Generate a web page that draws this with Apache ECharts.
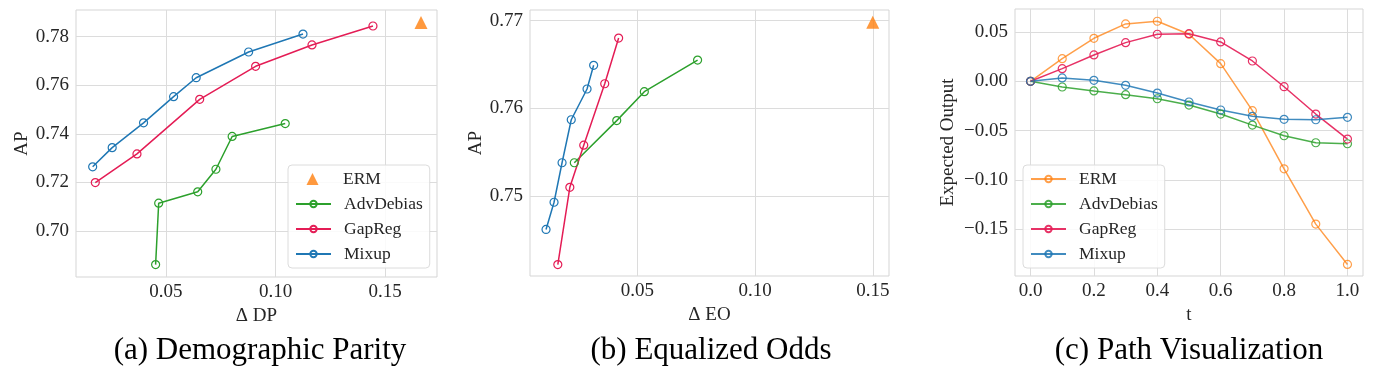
<!DOCTYPE html>
<html><head><meta charset="utf-8">
<script src="https://cdn.jsdelivr.net/npm/echarts@6/dist/echarts.min.js"></script>
<style>html,body{margin:0;padding:0;background:#fff}#c{width:1377px;height:366px}</style>
</head><body><div id="c"></div>
<script>
// ---------- data ----------
const methods = ['ERM', 'AdvDebias', 'GapReg', 'Mixup'];
// (a) Demographic Parity: x = Δ DP, y = AP
const ermA_dp = [0.1663];
const ermA_ap = [0.7858];
const advA_dp = [0.0453, 0.0467, 0.0645, 0.0728, 0.0802, 0.1044];
const advA_ap = [0.6861, 0.7114, 0.7161, 0.7254, 0.7389, 0.7442];
const gapA_dp = [0.0178, 0.0368, 0.0654, 0.0909, 0.1166, 0.1444];
const gapA_ap = [0.7199, 0.7317, 0.7542, 0.7678, 0.7766, 0.7844];
const mixA_dp = [0.0166, 0.0255, 0.0398, 0.0535, 0.0638, 0.0877, 0.1125];
const mixA_ap = [0.7264, 0.7343, 0.7445, 0.7553, 0.7631, 0.7737, 0.7811];
// (b) Equalized Odds: x = Δ EO, y = AP
const ermB_eo = [0.1499];
const ermB_ap = [0.7698];
const advB_eo = [0.0233, 0.0413, 0.0530, 0.0756];
const advB_ap = [0.7538, 0.7586, 0.7619, 0.7655];
const gapB_eo = [0.0163, 0.0214, 0.0273, 0.0362, 0.0421];
const gapB_ap = [0.7422, 0.7510, 0.7558, 0.7628, 0.7680];
const mixB_eo = [0.0113, 0.0147, 0.0181, 0.0220, 0.0287, 0.0315];
const mixB_ap = [0.7462, 0.7493, 0.7538, 0.7587, 0.7622, 0.7649];
// (c) Path Visualization: x = t, y = Expected Output
const tVals = [0, 0.1, 0.2, 0.3, 0.4, 0.5, 0.6, 0.7, 0.8, 0.9, 1.0];
const ermC = [0, 0.0229, 0.0436, 0.0582, 0.0609, 0.0477, 0.0179, -0.0298, -0.0887, -0.1448, -0.1857];
const advC = [0, -0.0058, -0.0098, -0.0136, -0.0177, -0.0241, -0.0332, -0.0444, -0.0552, -0.0623, -0.0633];
const gapC = [0, 0.0128, 0.0267, 0.0392, 0.0477, 0.0483, 0.0399, 0.0206, -0.0055, -0.0332, -0.0586];
const mixC = [0, 0.0034, 0.0010, -0.0041, -0.0119, -0.0210, -0.0291, -0.0355, -0.0386, -0.0390, -0.0365];
// tick labels
const ticksA_x = [0.05, 0.10, 0.15];
const ticksA_y = [0.70, 0.72, 0.74, 0.76, 0.78];
const ticksB_x = [0.05, 0.10, 0.15];
const ticksB_y = [0.75, 0.76, 0.77];
const ticksC_x = [0.0, 0.2, 0.4, 0.6, 0.8, 1.0];
const ticksC_y = [-0.15, -0.10, -0.05, 0.00, 0.05];
const titles = ['(a) Demographic Parity', '(b) Equalized Odds', '(c) Path Visualization'];

// ---------- style ----------
const FONT = 'Liberation Serif';
const TXT = '#262626';
const colors = {ERM: '#ff7f0e', AdvDebias: '#2ca02c', GapReg: '#e41c55', Mixup: '#1f77b4'};
const zip = (xs, ys) => xs.map((x, i) => [x, ys[i]]);
const fmt = d => v => (v < 0 ? '\u2212' : '') + Math.abs(v).toFixed(d);

function axis(gi, min, max, ticks, dec, name, gap, isY) {
  return {
    type: 'value', gridIndex: gi, min, max, scale: true,
    name, nameLocation: 'middle', nameGap: gap,
    nameTextStyle: {fontFamily: FONT, fontSize: 19, color: TXT},
    axisLine: {show: false},
    axisTick: {show: false, customValues: ticks},
    axisLabel: {customValues: ticks, formatter: fmt(dec), fontFamily: FONT, fontSize: 19, color: TXT, margin: isY ? 7 : 6},
    splitLine: {show: true, lineStyle: {color: '#dcdcdc', width: 1}}
  };
}
function lineSeries(name, key, data, xi, op) {
  const c = colors[key];
  return {
    type: 'line', name, xAxisIndex: xi, yAxisIndex: xi, data,
    symbol: 'circle', symbolSize: 8, showSymbol: true,
    lineStyle: {color: c, width: 1.5, opacity: op},
    itemStyle: {color: 'rgba(255,255,255,0)', borderColor: c, borderWidth: 1.2, opacity: op},
    emphasis: {disabled: true}, z: 3
  };
}
function ermScatter(name, data, xi) {
  return {type: 'scatter', name, xAxisIndex: xi, yAxisIndex: xi, data,
    symbol: 'triangle', symbolSize: 13, itemStyle: {color: colors.ERM}, z: 4};
}
const legendCommon = {
  orient: 'vertical', backgroundColor: 'rgba(255,255,255,0.85)', borderColor: '#dcdcdc', borderWidth: 1, borderRadius: 4,
  itemWidth: 35, itemHeight: 8, itemGap: 5, padding: [4, 7, 4, 7], symbolKeepAspect: true,
  textStyle: {fontFamily: FONT, fontSize: 17.5, color: TXT, lineHeight: 20, padding: [0, 0, 0, 8]},
  selectedMode: false
};

const option = {
  animation: false,
  backgroundColor: '#fff',
  grid: [
    {left: 76, top: 10, width: 361, height: 267, show: true, borderColor: '#d5d5d5', borderWidth: 1},
    {left: 530, top: 10, width: 359, height: 266, show: true, borderColor: '#d5d5d5', borderWidth: 1},
    {left: 1015, top: 9, width: 348, height: 267, show: true, borderColor: '#d5d5d5', borderWidth: 1}
  ],
  xAxis: [
    axis(0, 0.009, 0.1736, ticksA_x, 2, '\u0394 DP', 27, false),
    axis(1, 0.0045, 0.1568, ticksB_x, 2, '\u0394 EO', 27, false),
    axis(2, -0.049, 1.049, ticksC_x, 1, 't', 27, false)
  ],
  yAxis: [
    axis(0, 0.681, 0.791, ticksA_y, 2, 'AP', 44, true),
    axis(1, 0.7409, 0.7712, ticksB_y, 2, 'AP', 43, true),
    axis(2, -0.1974, 0.0733, ticksC_y, 2, 'Expected Output', 57, true)
  ],
  legend: [
    Object.assign({}, legendCommon, {left: 288, top: 165, padding: [29, 7, 4, 7], width: 126,
      data: ['AdvDebias', 'GapReg', 'Mixup']}),
    Object.assign({}, legendCommon, {left: 288, top: 165, z: 6, itemHeight: 12, symbolKeepAspect: false,
      backgroundColor: 'transparent', borderWidth: 0,
      data: [{name: 'ERM', icon: 'path://M0,0L0,0M23,24L35,0L47,24ZM70,24L70,24'}]}),
    Object.assign({}, legendCommon, {left: 1023, top: 165, data: ['ERM_c', 'AdvDebias_c', 'GapReg_c', 'Mixup_c'],
      formatter: n => n.replace('_c', '')})
  ],
  graphic: titles.map((t, i) => ({
    type: 'text', x: [260, 711, 1189][i], y: 351,
    style: {text: t, fontFamily: FONT, fontSize: 31, fill: '#000', textAlign: 'center', textVerticalAlign: 'middle'}
  })),
  series: [
    ermScatter('ERM', zip(ermA_dp, ermA_ap), 0),
    lineSeries('AdvDebias', 'AdvDebias', zip(advA_dp, advA_ap), 0, 1),
    lineSeries('GapReg', 'GapReg', zip(gapA_dp, gapA_ap), 0, 1),
    lineSeries('Mixup', 'Mixup', zip(mixA_dp, mixA_ap), 0, 1),
    ermScatter('ERM_b', zip(ermB_eo, ermB_ap), 1),
    lineSeries('AdvDebias_b', 'AdvDebias', zip(advB_eo, advB_ap), 1, 1),
    lineSeries('GapReg_b', 'GapReg', zip(gapB_eo, gapB_ap), 1, 1),
    lineSeries('Mixup_b', 'Mixup', zip(mixB_eo, mixB_ap), 1, 1),
    lineSeries('ERM_c', 'ERM', zip(tVals, ermC), 2, 0.75),
    lineSeries('AdvDebias_c', 'AdvDebias', zip(tVals, advC), 2, 0.85),
    lineSeries('GapReg_c', 'GapReg', zip(tVals, gapC), 2, 0.9),
    lineSeries('Mixup_c', 'Mixup', zip(tVals, mixC), 2, 0.85)
  ]
};
const chart = echarts.init(document.getElementById('c'), null, {renderer: 'canvas'});
chart.setOption(option);
</script></body></html>
